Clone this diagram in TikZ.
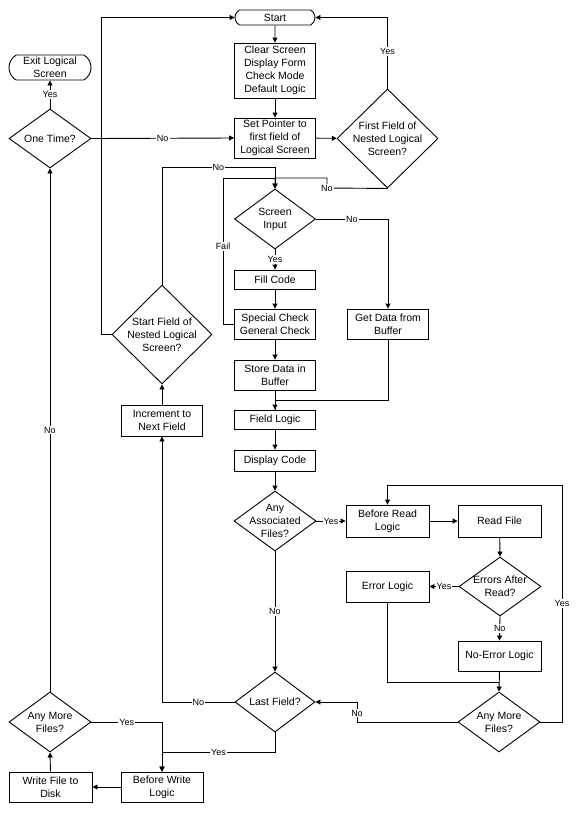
\documentclass[tikz,border=0pt]{standalone}
\usepackage{fontspec}
\setmainfont{Liberation Sans}
\usetikzlibrary{shapes.geometric,shapes.misc,arrows.meta}
\begin{document}
\begin{tikzpicture}[x=1pt,y=-1pt,line width=0.9pt,
  every node/.style={font=\fontsize{10.5}{13}\selectfont},
  box/.style={draw,rectangle,inner sep=0pt,align=center,minimum width=81pt},
  term/.style={draw,rounded rectangle,rounded rectangle arc length=120,inner sep=0pt,align=center},
  dia/.style={draw,diamond,inner sep=0pt},
  arr/.style={-{Triangle[length=5pt,width=5pt]}},
  lbl/.style={fill=white,inner sep=1pt,font=\fontsize{9}{10}\selectfont}]
\fill[white] (0,0) rectangle (580,815);
\useasboundingbox (0,0) rectangle (580,815);

% terminals
\node[term,minimum width=80pt,minimum height=15pt] (start) at (275,17.5) {Start};
\node[term,minimum width=82pt,minimum height=25pt] (exit) at (50,67.5) {Exit Logical\\Screen};

% boxes
\node[box,minimum height=55pt] (clear) at (275,70.5) {Clear Screen\\Display Form\\Check Mode\\Default Logic};
\node[box,minimum height=40pt] (setptr) at (275,138) {Set Pointer to\\first field of\\Logical Screen};
\node[box,minimum height=19pt] (fill) at (275,279.5) {Fill Code};
\node[box,minimum height=30pt] (special) at (275,324) {Special Check\\General Check};
\node[box,minimum height=30pt] (getdata) at (388,324) {Get Data from\\Buffer};
\node[box,minimum height=30pt] (store) at (275,375) {Store Data in\\Buffer};
\node[box,minimum height=19pt] (field) at (275,419.5) {Field Logic};
\node[box,minimum height=31pt] (incr) at (162,420.5) {Increment to\\Next Field};
\node[box,minimum height=21pt] (display) at (275,460.5) {Display Code};
\node[box,minimum width=83pt,minimum height=32pt] (beforeread) at (387.5,521) {Before Read\\Logic};
\node[box,minimum width=83pt,minimum height=32pt] (readfile) at (499.5,521) {Read File};
\node[box,minimum width=83pt,minimum height=31pt] (errorlogic) at (387.5,586.5) {Error Logic};
\node[box,minimum width=83pt,minimum height=30pt] (noerror) at (499.5,656) {No-Error Logic};
\node[box,minimum width=82pt,minimum height=30pt] (beforewrite) at (162,787) {Before Write\\Logic};
\node[box,minimum width=83pt,minimum height=30pt] (writefile) at (50.5,787) {Write File to\\Disk};

% decisions
\node[dia,minimum width=101pt,minimum height=99pt,label={[align=center]center:First Field of\\Nested Logical\\Screen?}] (firstf) at (387.5,138.5) {};
\node[dia,minimum width=82pt,minimum height=59pt,label={[align=center]center:One Time?}] (onetime) at (50,138.5) {};
\node[dia,minimum width=100pt,minimum height=99pt,label={[align=center]center:Start Field of\\Nested Logical\\Screen?}] (startf) at (162,334.5) {};
\node[dia,minimum width=81pt,minimum height=60pt,label={[align=center]center:Screen\\Input}] (screen) at (275,219) {};
\node[dia,minimum width=82pt,minimum height=60pt,label={[align=center]center:Any\\Associated\\Files?}] (anyassoc) at (275,521) {};
\node[dia,minimum width=82pt,minimum height=59pt,label={[align=center]center:Errors After\\Read?}] (errors) at (500,586.5) {};
\node[dia,minimum width=80pt,minimum height=60pt,label={[align=center]center:Last Field?}] (lastfield) at (275,702) {};
\node[dia,minimum width=82pt,minimum height=60pt,label={[align=center]center:Any More\\Files?}] (moreR) at (499,722) {};
\node[dia,minimum width=82pt,minimum height=60pt,label={[align=center]center:Any More\\Files?}] (moreL) at (50,722) {};

% junction points
\coordinate (jn) at (275,178);
\coordinate (jn2) at (275,167);

% connectors
\draw[arr] (start) -- (clear);
\draw[arr] (clear) -- (setptr);
\draw[arr] (setptr) -- (firstf);
\draw[arr] (firstf.north) |- node[lbl,pos=0.26]{Yes} (start.east);
\draw[arr] (firstf.south) -- node[lbl,pos=1]{No} (327,188) -- (327,178) -- (jn) -- (screen.north);
\draw (special.west) -- (223,324) -- node[lbl,pos=0.53]{Fail} (223,178) -- (jn);
\draw[arr] (onetime.north) -- node[lbl]{Yes} (exit.south);
\draw[arr] (onetime.east) -- node[lbl]{No} (setptr.west);
\draw[arr] (startf.west) -- (101,334.5) |- (start.west);
\draw[arr] (startf.north) |- node[lbl,pos=0.75]{No} (jn2) -- (screen.north);
\draw[arr] (screen.south) -- node[lbl]{Yes} (fill.north);
\draw[arr] (screen.east) -| node[lbl,pos=0.25]{No} (getdata.north);
\draw[arr] (fill) -- (special);
\draw[arr] (special) -- (store);
\draw (store) -- (field);
\draw[arr] (getdata.south) |- (275,400) -- (field.north);
\draw[arr] (field) -- (display);
\draw[arr] (display) -- (anyassoc.north);
\draw[arr] (anyassoc.east) -- node[lbl]{Yes} (beforeread.west);
\draw[arr] (anyassoc.south) -- node[lbl]{No} (lastfield.north);
\draw[arr] (beforeread) -- (readfile);
\draw[arr] (readfile) -- (errors.north);
\draw[arr] (errors.west) -- node[lbl]{Yes} (errorlogic.east);
\draw[arr] (errors.south) -- node[lbl]{No} (noerror.north);
\draw (errorlogic.south) |- (499,682);
\draw[arr] (noerror.south) -- (moreR.north);
\draw[arr] (moreR.east) -- (562,722) -- node[lbl,pos=0.5]{Yes} (562,485) -| (beforeread.north);
\draw[arr] (moreR.west) -- (357,722) -- node[lbl,pos=0.45]{No} (357,702) -- (lastfield.east);
\draw[arr] (lastfield.west) -| node[lbl,pos=0.25]{No} (incr.south);
\draw[arr] (lastfield.south) |- node[lbl,pos=0.75]{Yes} (162,752) -- (beforewrite.north);
\draw[arr] (incr.north) -- (startf.south);
\draw[arr] (beforewrite.west) -- (writefile.east);
\draw[arr] (writefile.north) -- (moreL.south);
\draw[arr] (moreL.east) -| node[lbl,pos=0.25]{Yes} (beforewrite.north);
\draw[arr] (moreL.north) -- node[lbl,pos=0.5]{No} (onetime.south);
\end{tikzpicture}
\end{document}
